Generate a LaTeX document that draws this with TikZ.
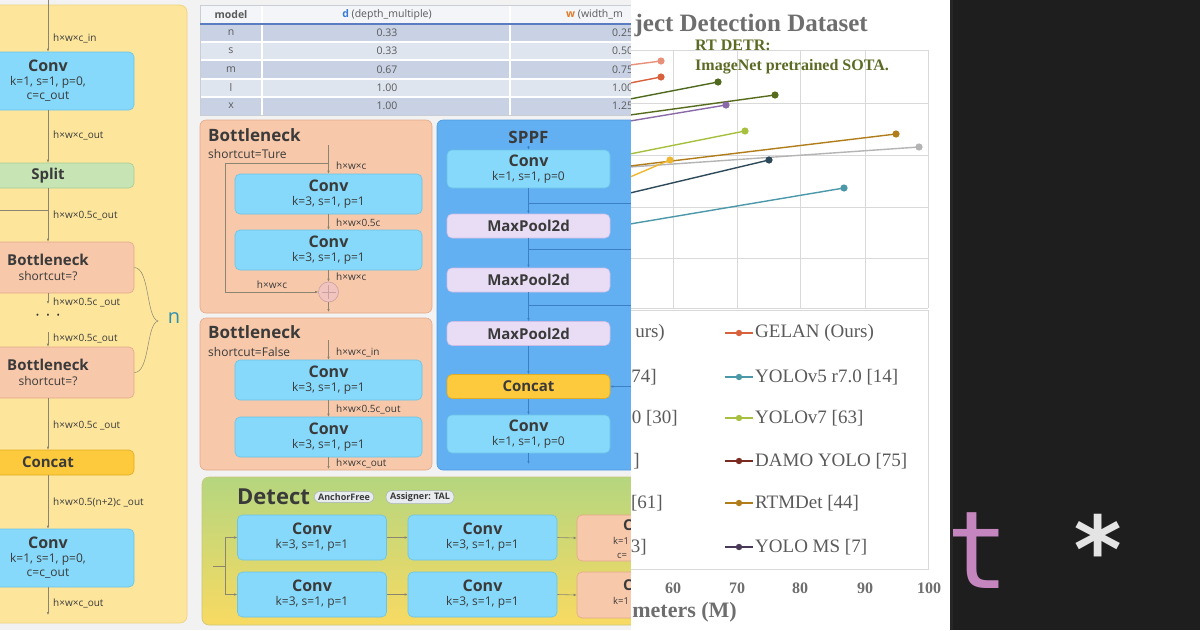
\documentclass[tikz,border=0pt]{standalone}
\usepackage{fontspec}
\setmainfont{Open Sans}
\newfontfamily\chartfont{Liberation Serif}
\newfontfamily\codefont{DejaVu Sans Mono}
\usetikzlibrary{arrows.meta,calc}
\newcommand\fsz[2]{\fontsize{#1}{#2}\selectfont}
\definecolor{pagebg}{HTML}{F2F2F2}
\definecolor{txt}{HTML}{3A3A3A}
\definecolor{lineC}{HTML}{8A8470}
\definecolor{ylwF}{HTML}{FDE69C}
\definecolor{ylwB}{HTML}{EED07C}
\definecolor{convF}{HTML}{86D9FA}
\definecolor{convB}{HTML}{6CC3E6}
\definecolor{splitF}{HTML}{C6E4B4}
\definecolor{splitB}{HTML}{A9CC95}
\definecolor{bnF}{HTML}{F7C8AA}
\definecolor{bnB}{HTML}{E2A98A}
\definecolor{catF}{HTML}{FCCA3C}
\definecolor{catB}{HTML}{E0AC22}
\definecolor{sppfF}{HTML}{62B0F2}
\definecolor{sppfB}{HTML}{4C9AE0}
\definecolor{sppfL}{HTML}{3C7FC4}
\definecolor{mpF}{HTML}{E9DDF5}
\definecolor{mpB}{HTML}{CDBDE6}
\definecolor{detT}{HTML}{B5D67F}
\definecolor{detB}{HTML}{F8DA62}
\definecolor{detBd}{HTML}{C9C77A}
\definecolor{pillF}{HTML}{E8ECEE}
\definecolor{pillB}{HTML}{A9B2B8}
\definecolor{hdrF}{HTML}{F3F5F9}
\definecolor{rowD}{HTML}{C8D2E4}
\definecolor{rowL}{HTML}{DFE5EF}
\definecolor{tblue}{HTML}{5B7CC0}
\definecolor{tblLine}{HTML}{C8CDD6}
\definecolor{dblue}{HTML}{3A7BD5}
\definecolor{worange}{HTML}{E07A2A}
\definecolor{nteal}{HTML}{2F8FB0}
\definecolor{chgrid}{HTML}{D9D9D9}
\definecolor{chtitle}{HTML}{6E6E6E}
\definecolor{chtext}{HTML}{5A5A5A}
\definecolor{rtdetr}{HTML}{5B6B23}
\definecolor{cA}{HTML}{E8907A}
\definecolor{cB}{HTML}{D8613C}
\definecolor{cC}{HTML}{4F6A1E}
\definecolor{cD}{HTML}{566B1C}
\definecolor{cE}{HTML}{8A6AA8}
\definecolor{cF}{HTML}{A8C040}
\definecolor{cG}{HTML}{B07D1A}
\definecolor{cH}{HTML}{B4B4B4}
\definecolor{cI}{HTML}{F0B830}
\definecolor{cJ}{HTML}{2E4A5A}
\definecolor{cK}{HTML}{4A98A8}
\definecolor{cL}{HTML}{7A2A20}
\definecolor{cM}{HTML}{4A3858}
\definecolor{darkbg}{HTML}{1E1E1E}
\definecolor{pinkt}{HTML}{C586C0}
\definecolor{star}{HTML}{E4E4E4}
\definecolor{plusB}{HTML}{C9A0A0}
\definecolor{plusF}{HTML}{F2C4C0}
\begin{document}
\begin{tikzpicture}[x=1pt,y=-1pt,
  lbl/.style={anchor=west,inner sep=0,text=txt,font=\fsz{10}{12}},
  ln/.style={draw=lineC,line width=0.6pt},
  ar/.style={ln,-{Latex[length=3pt,width=2.6pt]}},
  bx/.style={rounded corners=5pt,align=center,inner sep=0,text=txt,line width=0.6pt,font=\fsz{12}{14}},
  convL/.style={bx,draw=convB,fill=convF,minimum width=172pt,minimum height=58pt},
  convM/.style={bx,draw=convB,fill=convF,minimum width=187pt,minimum height=40pt},
  convS/.style={bx,draw=convB,fill=convF,minimum width=163pt,minimum height=38pt},
  convD/.style={bx,draw=convB,fill=convF,minimum width=149pt,minimum height=45pt},
  headD/.style={bx,draw=bnB,fill=bnF,minimum width=132pt,minimum height=46pt},
  headtxt/.style={anchor=west,align=left,inner sep=0,text=txt,font=\fsz{9.5}{14}},
  splitbox/.style={bx,draw=splitB,fill=splitF,minimum width=172pt,minimum height=25pt},
  bnbox/.style={bx,draw=bnB,fill=bnF,minimum width=172pt,minimum height=51pt},
  catL/.style={bx,draw=catB,fill=catF,minimum width=172pt,minimum height=25pt},
  catS/.style={bx,draw=catB,fill=catF,minimum width=163pt,minimum height=24pt},
  mpbox/.style={bx,draw=mpB,fill=mpF,minimum width=163pt,minimum height=24pt},
  panelbn/.style={draw=bnB,fill=bnF,rounded corners=6pt,line width=0.6pt},
  ttl/.style={anchor=west,inner sep=0,text=txt,font=\fsz{17}{19}\bfseries},
  sub/.style={anchor=west,inner sep=0,text=txt,font=\fsz{12}{14}},
  pill/.style={draw=pillB,fill=pillF,rounded corners=6pt,inner xsep=4pt,inner ysep=2pt,text=txt,font=\fsz{9}{10}\bfseries,line width=0.5pt},
  tcell/.style={inner sep=0,text=chtext,font=\fsz{10.5}{12}},
  leg/.style={anchor=west,inner sep=0,text=chtext,font=\chartfont\fsz{19}{21}},
  tick/.style={inner sep=0,text=chtitle,font=\chartfont\fsz{16}{18}\bfseries}
]
\useasboundingbox (0,0) rectangle (1200,630);
\fill[pagebg] (0,0) rectangle (632,630);

% ================= LEFT COLLAGE =================
\begin{scope}
\clip (0,0) rectangle (631,630);

% ---- left C2f panel ----
\draw[draw=ylwB,fill=ylwF,rounded corners=7pt,line width=0.6pt] (-30,5) rectangle (187,623);
\node[convL] (lc1) at (48,81) {{\fsz{16}{18}\bfseries Conv}\\k=1, s=1, p=0,\\c=c\_out};
\node[splitbox] (lsp) at (48,175.5) {\fsz{15}{17}\bfseries Split};
\node[bnbox] (lb1) at (48,267.5) {{\fsz{15}{17}\bfseries Bottleneck}\\[1pt]shortcut=?};
\node[inner sep=0,text=txt,font=\fsz{9}{9}] (ldots) at (48,316) {\textbullet\hspace{7pt}\textbullet\hspace{7pt}\textbullet};
\node[bnbox] (lb2) at (48,372.5) {{\fsz{15}{17}\bfseries Bottleneck}\\[1pt]shortcut=?};
\node[catL] (lcat) at (48,462.5) {\fsz{15}{17}\bfseries Concat};
\node[convL] (lc2) at (48,558) {{\fsz{16}{18}\bfseries Conv}\\k=1, s=1, p=0,\\c=c\_out};
\coordinate (lin) at (48,0);
\coordinate (lout) at (48,615);
\coordinate (lbr) at (48,210);
\coordinate (lbrl) at (-10,210);
\coordinate (ld1) at (48,304);
\coordinate (ld2) at (48,332);
\draw[ar] (lin) -- (lc1.north);
\draw[ar] (lc1.south) -- (lsp.north);
\draw[ar] (lsp.south) -- (lb1.north);
\draw[ln] (lbr) -- (lbrl);
\draw[ar] (lb1.south) -- (ld1);
\draw[ar] (ld2) -- (lb2.north);
\draw[ar] (lb2.south) -- (lcat.north);
\draw[ar] (lcat.south) -- (lc2.north);
\draw[ar] (lc2.south) -- (lout);
\node[lbl] (l1) at (53,38) {h×w×c\_in};
\node[lbl] (l2) at (53,135) {h×w×c\_out};
\node[lbl] (l3) at (53,215) {h×w×0.5c\_out};
\node[lbl] (l4) at (53,302) {h×w×0.5c \_out};
\node[lbl] (l5) at (53,338) {h×w×0.5c\_out};
\node[lbl] (l6) at (53,425) {h×w×0.5c \_out};
\node[lbl] (l7) at (53,502) {h×w×0.5(n+2)c \_out};
\node[lbl] (l8) at (53,603) {h×w×c\_out};
\coordinate (nb) at (158,321);
\draw[draw=lineC,line width=0.5pt] (lb1.east) .. controls (150,268) and (146,318) .. (nb) .. controls (146,324) and (150,373) .. (lb2.east);
\node[inner sep=0,text=nteal,font=\fsz{20}{22}] (nlab) at (174,318) {n};

% ---- table ----
\fill[hdrF] (200,5) rectangle (640,24);
\fill[rowD] (200,24) rectangle (640,42);
\fill[rowL] (200,42) rectangle (640,60);
\fill[rowD] (200,60) rectangle (640,79);
\fill[rowL] (200,79) rectangle (640,97);
\fill[rowD] (200,97) rectangle (640,115);
\foreach \yy in {42,60,79,97} {\draw[white,line width=1.2pt] (200,\yy) -- (640,\yy);}
\draw[white,line width=1.2pt] (262,5) -- (262,115);
\draw[white,line width=1.2pt] (510,5) -- (510,115);
\draw[tblLine,line width=0.6pt] (200,5) rectangle (640,115);
\draw[tblue,line width=1.6pt] (200,24) -- (640,24);
\node[tcell,font=\fsz{10.5}{12}\bfseries] (th1) at (231,14.5) {model};
\node[tcell] (th2) at (387,14.5) {\textcolor{dblue}{\bfseries d} (depth\_multiple)};
\node[tcell,anchor=west] (th3) at (566,14.5) {\textcolor{worange}{\bfseries w} (width\_m};
\node[tcell] (m1) at (231,33) {n};
\node[tcell] (m2) at (231,51) {s};
\node[tcell] (m3) at (231,69.5) {m};
\node[tcell] (m4) at (231,88) {l};
\node[tcell] (m5) at (231,106) {x};
\node[tcell] (d1) at (387,33) {0.33};
\node[tcell] (d2) at (387,51) {0.33};
\node[tcell] (d3) at (387,69.5) {0.67};
\node[tcell] (d4) at (387,88) {1.00};
\node[tcell] (d5) at (387,106) {1.00};
\node[tcell,anchor=west] (w1) at (612,33) {0.25};
\node[tcell,anchor=west] (w2) at (612,51) {0.50};
\node[tcell,anchor=west] (w3) at (612,69.5) {0.75};
\node[tcell,anchor=west] (w4) at (612,88) {1.00};
\node[tcell,anchor=west] (w5) at (612,106) {1.25};

% ---- Bottleneck shortcut=True ----
\draw[panelbn] (200,120) rectangle (432,313);
\node[ttl] (tt) at (208,135) {Bottleneck};
\node[sub] (ts) at (208,154) {shortcut=Ture};
\node[convM] (t1) at (328.5,194) {{\fsz{16}{18}\bfseries Conv}\\k=3, s=1, p=1};
\node[convM] (t2) at (328.5,250) {{\fsz{16}{18}\bfseries Conv}\\k=3, s=1, p=1};
\node[circle,draw=plusB,fill=plusF,minimum size=20pt,inner sep=0,line width=0.6pt] (tplus) at (328.5,292) {};
\draw[draw=plusB,line width=0.6pt] ($(tplus.center)+(0,-7)$) -- ($(tplus.center)+(0,7)$);
\draw[draw=plusB,line width=0.6pt] ($(tplus.center)+(-7,0)$) -- ($(tplus.center)+(7,0)$);
\coordinate (tin) at (328.5,145);
\coordinate (tsc) at (328.5,163);
\coordinate (tsc1) at (225,163);
\coordinate (tsc2) at (225,292);
\coordinate (tout) at (328.5,312);
\draw[ar] (tin) -- (t1.north);
\draw[ar] (t1.south) -- (t2.north);
\draw[ar] (t2.south) -- (tplus.north);
\draw[ar] (tplus.south) -- (tout);
\draw[ar] (tsc) -- (tsc1) -- (tsc2) -- (tplus.west);
\node[lbl] (tl1) at (336,166) {h×w×c};
\node[lbl] (tl2) at (336,223) {h×w×0.5c};
\node[lbl] (tl3) at (336,277) {h×w×c};
\node[lbl,anchor=center] (tl4) at (272,285) {h×w×c};

% ---- Bottleneck shortcut=False ----
\draw[panelbn] (200,318) rectangle (432,470);
\node[ttl] (ft) at (208,332) {Bottleneck};
\node[sub] (fs) at (208,352) {shortcut=False};
\node[convM] (f1) at (328.5,380) {{\fsz{16}{18}\bfseries Conv}\\k=3, s=1, p=1};
\node[convM] (f2) at (328.5,437) {{\fsz{16}{18}\bfseries Conv}\\k=3, s=1, p=1};
\coordinate (fin) at (328.5,340);
\coordinate (fout) at (328.5,469);
\draw[ar] (fin) -- (f1.north);
\draw[ar] (f1.south) -- (f2.north);
\draw[ar] (f2.south) -- (fout);
\node[lbl] (fl1) at (336,352) {h×w×c\_in};
\node[lbl] (fl2) at (336,409) {h×w×0.5c\_out};
\node[lbl] (fl3) at (336,463) {h×w×c\_out};

% ---- SPPF ----
\draw[draw=sppfB,fill=sppfF,rounded corners=6pt,line width=0.6pt] (437,120) rectangle (680,470);
\node[inner sep=0,text=txt,font=\fsz{17}{19}\bfseries] (st) at (528.5,137) {SPPF};
\node[convS] (s1) at (528.5,169) {{\fsz{16}{18}\bfseries Conv}\\k=1, s=1, p=0};
\node[mpbox] (mp1) at (528.5,226) {\fsz{15}{17}\bfseries MaxPool2d};
\node[mpbox] (mp2) at (528.5,280) {\fsz{15}{17}\bfseries MaxPool2d};
\node[mpbox] (mp3) at (528.5,333.5) {\fsz{15}{17}\bfseries MaxPool2d};
\node[catS] (scat) at (528.5,386.5) {\fsz{15}{17}\bfseries Concat};
\node[convS] (s2) at (528.5,434) {{\fsz{16}{18}\bfseries Conv}\\k=1, s=1, p=0};
\coordinate (sin) at (528.5,146);
\coordinate (sout) at (528.5,464);
\coordinate (sb1) at (528.5,203);
\coordinate (sb1r) at (640,203);
\coordinate (sb2) at (528.5,249);
\coordinate (sb2r) at (640,249);
\coordinate (sb3) at (528.5,305);
\coordinate (sb3r) at (640,305);
\coordinate (scr) at (640,386.5);
\begin{scope}[ln/.append style={draw=sppfL},ar/.append style={draw=sppfL}]
\draw[ar] (sin) -- (s1.north);
\draw[ar] (s1.south) -- (mp1.north);
\draw[ar] (mp1.south) -- (mp2.north);
\draw[ar] (mp2.south) -- (mp3.north);
\draw[ar] (mp3.south) -- (scat.north);
\draw[ar] (scat.south) -- (s2.north);
\draw[ar] (s2.south) -- (sout);
\draw[ln] (sb1) -- (sb1r);
\draw[ln] (sb2) -- (sb2r);
\draw[ln] (sb3) -- (sb3r);
\draw[ar] (scr) -- (scat.east);
\end{scope}

% ---- Detect ----
\draw[draw=detBd,top color=detT,bottom color=detB,rounded corners=7pt,line width=0.6pt] (202,477) rectangle (680,625);
\node[inner sep=0,anchor=west,text=txt,font=\fsz{22}{24}\bfseries] (dt) at (237,497) {Detect};
\node[pill] (p1) at (344,497) {AnchorFree};
\node[pill] (p2) at (420,497) {Assigner: TAL};
\node[convD] (d11) at (312,537.5) {{\fsz{16}{18}\bfseries Conv}\\k=3, s=1, p=1};
\node[convD] (d12) at (482.5,537.5) {{\fsz{16}{18}\bfseries Conv}\\k=3, s=1, p=1};
\node[headD] (d13) at (643,538) {};
\node[headtxt] (d13t) at (613,539) {\hspace{10pt}{\fsz{15}{16}\bfseries Conv}\\k=1\\\hspace{4pt}c=};
\node[convD] (d21) at (312,594.5) {{\fsz{16}{18}\bfseries Conv}\\k=3, s=1, p=1};
\node[convD] (d22) at (482.5,594.5) {{\fsz{16}{18}\bfseries Conv}\\k=3, s=1, p=1};
\node[headD] (d23) at (643,595) {};
\node[headtxt] (d23t) at (613,592) {\hspace{10pt}{\fsz{15}{16}\bfseries Conv}\\k=1};
\coordinate (din) at (213,566);
\coordinate (dj) at (225,566);
\draw[ln] (din) -- (dj);
\draw[ar] (dj) |- (d11.west);
\draw[ar] (dj) |- (d21.west);
\draw[ar] (d11.east) -- (d12.west);
\draw[ar] (d12.east) -- (d13.west);
\draw[ar] (d21.east) -- (d22.west);
\draw[ar] (d22.east) -- (d23.west);
\end{scope}

% ================= CHART =================
\begin{scope}
\clip (631,0) rectangle (951,630);
\fill[white] (631,0) rectangle (951,630);
\foreach \xx in {673,737,800,865,928} {\draw[chgrid,line width=0.8pt] (\xx,50) -- (\xx,308);}
\foreach \yy in {50,103,155,207,258,308} {\draw[chgrid,line width=0.8pt] (600,\yy) -- (928,\yy);}
\node[inner sep=0,anchor=east,text=chtitle,font=\chartfont\fsz{25}{27}\bfseries] (ctitle) at (868,25) {ject Detection Dataset};
\node[inner sep=0,anchor=north west,align=left,text=rtdetr,font=\chartfont\fsz{16}{20}\bfseries] (crt) at (695,40) {RT DETR:\\ImageNet pretrained SOTA.};
% data series
\foreach \x/\y/\X/\Y/\c in {630/65/661/61/cA, 630/83/661/77/cB, 630/99/718/82/cC, 630/115/775/95/cD, 630/121/726/105/cE, 630/154/745/131/cF, 630/167/919/147/cH, 630/166/896/134/cG, 630/177/670/160/cI, 630/193/769/160/cJ, 630/224/844/188/cK}
{\draw[\c,line width=1.4pt] (\x,\y) -- (\X,\Y); \fill[\c] (\X,\Y) circle (3.6pt);}
% legend
\draw[chgrid,fill=white,line width=0.8pt] (600,310) rectangle (928,569);
\foreach \y/\c/\t in {333/cB/GELAN (Ours), 377/cK/YOLOv5 r7.0 [14], 418/cF/YOLOv7 [63], 461/cL/DAMO YOLO [75], 503/cG/RTMDet [44], 547/cM/YOLO MS [7]}
{\draw[\c,line width=1.4pt] (725,\y) -- (753,\y); \fill[\c] (739,\y) circle (3.2pt);
 \node[leg] at (755,\y) {\t};}
\node[leg,anchor=east] (lg1) at (665,333) {urs)};
\node[leg,anchor=east] (lg2) at (657,377) {74]};
\node[leg,anchor=east] (lg3) at (678,418) {0 [30]};
\node[leg,anchor=east] (lg4) at (640,461) {]};
\node[leg,anchor=east] (lg5) at (663,503) {[61]};
\node[leg,anchor=east] (lg6) at (647,547) {3]};
\node[tick] (x60) at (673,588) {60};
\node[tick] (x70) at (737,588) {70};
\node[tick] (x80) at (800,588) {80};
\node[tick] (x90) at (865,588) {90};
\node[tick] (x100) at (929,588) {100};
\node[inner sep=0,anchor=east,text=chtitle,font=\chartfont\fsz{22}{24}\bfseries] (xlab) at (737,612) {meters (M)};
\end{scope}

% ================= DARK CODE PANEL =================
\fill[black!85] (950,0) rectangle (954,630);
\fill[darkbg] (953,0) rectangle (1200,630);
\begin{scope}
\clip (953,0) rectangle (1200,630);
\node[inner sep=0,anchor=base,text=pinkt,font=\codefont\fsz{108}{108}] (ct) at (977,588) {t};
\node[inner sep=0,anchor=base,text=star,font=\codefont\bfseries\fsz{92}{92}] (cs) at (1098,582) {*};
\end{scope}
\end{tikzpicture}
\end{document}
